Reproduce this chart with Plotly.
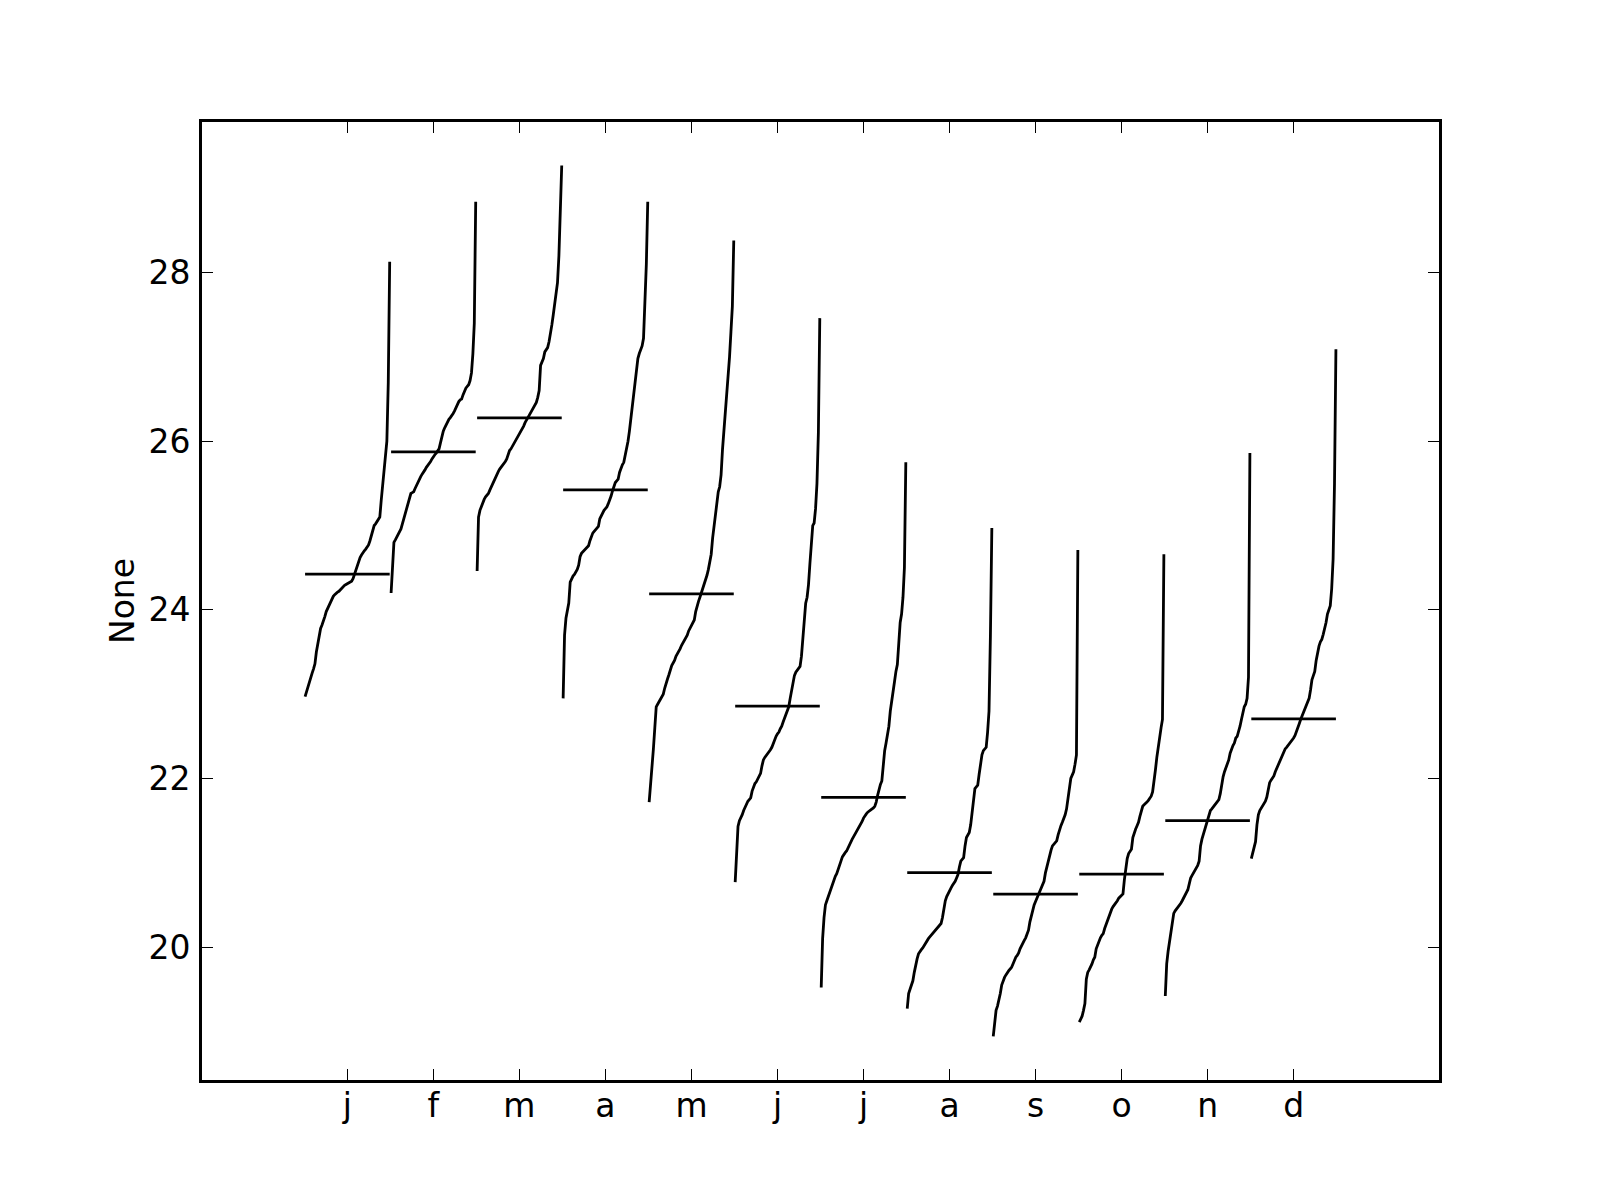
import numpy as np
import plotly.graph_objects as go

month_labels = ["j", "f", "m", "a", "m", "j", "j", "a", "s", "o", "n", "d"]
y_ticks = [20, 22, 24, 26, 28]

jan = [22.97, 23.03, 23.1, 23.15, 23.2, 23.25, 23.3, 23.36, 23.5, 23.6,
       23.68, 23.78, 23.82, 23.86, 23.92, 23.98, 24.02, 24.06, 24.1, 24.13,
       24.16, 24.18, 24.2, 24.21, 24.22, 24.24, 24.26, 24.27, 24.29, 24.3,
       24.31, 24.32, 24.33, 24.34, 24.37, 24.42, 24.48, 24.53, 24.58, 24.62,
       24.65, 24.68, 24.7, 24.72, 24.75, 24.77, 24.82, 24.88, 24.95, 25.0,
       25.02, 25.05, 25.08, 25.1, 25.3, 25.5, 25.7, 25.85, 26.0, 26.7, 28.13]
feb = [24.2, 24.6, 24.8, 24.83, 24.86, 24.9, 24.92, 24.96, 25.02, 25.08,
       25.14, 25.2, 25.26, 25.35, 25.38, 25.39, 25.4, 25.44, 25.48, 25.51,
       25.55, 25.58, 25.61, 25.63, 25.66, 25.69, 25.71, 25.73, 25.76, 25.79,
       25.82, 25.84, 25.86, 25.88, 25.91, 25.98, 26.06, 26.12, 26.16, 26.2,
       26.23, 26.26, 26.28, 26.3, 26.33, 26.36, 26.4, 26.44, 26.47, 26.49,
       26.5, 26.55, 26.6, 26.63, 26.65, 26.67, 26.72, 26.81, 27.04, 27.4, 28.84]
mar = [24.46, 25.1, 25.18, 25.23, 25.28, 25.31, 25.34, 25.36, 25.38, 25.42,
       25.46, 25.49, 25.53, 25.57, 25.61, 25.64, 25.67, 25.69, 25.72, 25.74,
       25.76, 25.79, 25.84, 25.89, 25.91, 25.94, 25.96, 25.99, 26.02, 26.05,
       26.08, 26.11, 26.15, 26.18, 26.22, 26.26, 26.28, 26.31, 26.34, 26.37,
       26.4, 26.43, 26.46, 26.52, 26.6, 26.9, 26.94, 26.98, 27.06, 27.09,
       27.11, 27.18, 27.27, 27.38, 27.5, 27.64, 27.77, 27.88, 28.2, 28.7, 29.27]
apr = [22.95, 23.7, 23.9, 23.98, 24.08, 24.33, 24.37, 24.4, 24.42, 24.45,
       24.48, 24.53, 24.63, 24.67, 24.69, 24.71, 24.73, 24.74, 24.76, 24.82,
       24.87, 24.91, 24.93, 24.95, 24.97, 24.99, 25.08, 25.12, 25.15, 25.18,
       25.2, 25.22, 25.26, 25.3, 25.35, 25.41, 25.47, 25.51, 25.53, 25.55,
       25.63, 25.69, 25.72, 25.75, 25.83, 25.93, 26.0, 26.12, 26.26, 26.42,
       26.57, 26.67, 26.88, 26.98, 27.04, 27.09, 27.13, 27.22, 27.6, 28.1, 28.84]
may = [21.72, 21.9, 22.1, 22.35, 22.6, 22.85, 22.88, 22.91, 22.94, 22.97,
       23.0, 23.07, 23.14, 23.18, 23.23, 23.3, 23.34, 23.37, 23.4, 23.45,
       23.48, 23.5, 23.54, 23.58, 23.61, 23.64, 23.67, 23.7, 23.75, 23.78,
       23.81, 23.84, 23.88, 23.98, 24.05, 24.1, 24.15, 24.2, 24.26, 24.32,
       24.37, 24.41, 24.48, 24.58, 24.66, 24.85, 25.0, 25.1, 25.25, 25.4,
       25.46, 25.6, 25.9, 26.1, 26.3, 26.6, 26.7, 27.0, 27.3, 27.6, 28.38]
jun = [20.77, 21.15, 21.43, 21.5, 21.53, 21.57, 21.62, 21.66, 21.7, 21.73,
       21.75, 21.77, 21.85, 21.91, 21.94, 21.96, 21.99, 22.03, 22.06, 22.15,
       22.22, 22.25, 22.27, 22.29, 22.31, 22.34, 22.37, 22.42, 22.47, 22.5,
       22.53, 22.55, 22.59, 22.62, 22.67, 22.71, 22.75, 22.79, 22.85, 22.95,
       23.05, 23.15, 23.22, 23.26, 23.28, 23.3, 23.33, 23.45, 23.65, 23.95,
       24.08, 24.15, 24.3, 24.55, 24.8, 25.0, 25.03, 25.2, 25.5, 26.1, 27.46]
jul = [19.52, 20.1, 20.35, 20.5, 20.55, 20.6, 20.63, 20.68, 20.74, 20.8,
       20.84, 20.87, 20.93, 20.97, 21.02, 21.07, 21.1, 21.12, 21.14, 21.18,
       21.22, 21.25, 21.28, 21.31, 21.34, 21.36, 21.39, 21.42, 21.45, 21.49,
       21.53, 21.56, 21.58, 21.6, 21.61, 21.62, 21.63, 21.65, 21.67, 21.72,
       21.8, 21.88, 21.93, 21.97, 22.2, 22.33, 22.42, 22.52, 22.62, 22.8,
       22.9, 23.0, 23.15, 23.27, 23.35, 23.6, 23.85, 23.95, 24.15, 24.5, 25.75]
aug = [19.27, 19.45, 19.5, 19.55, 19.6, 19.7, 19.8, 19.86, 19.92, 19.95,
       19.97, 19.99, 20.02, 20.04, 20.07, 20.1, 20.12, 20.14, 20.16, 20.18,
       20.2, 20.22, 20.24, 20.26, 20.28, 20.35, 20.47, 20.55, 20.6, 20.64,
       20.67, 20.7, 20.73, 20.75, 20.78, 20.82, 20.86, 20.95, 21.02, 21.04,
       21.06, 21.2, 21.3, 21.33, 21.36, 21.45, 21.6, 21.8, 21.88, 21.9,
       21.92, 22.05, 22.2, 22.28, 22.33, 22.35, 22.37, 22.55, 22.8, 23.7, 24.97]
sep = [18.94, 19.15, 19.25, 19.3, 19.36, 19.45, 19.55, 19.6, 19.64, 19.67,
       19.7, 19.72, 19.74, 19.76, 19.8, 19.85, 19.88, 19.9, 19.93, 19.98,
       20.02, 20.05, 20.08, 20.11, 20.15, 20.2, 20.3, 20.38, 20.45, 20.5,
       20.54, 20.58, 20.63, 20.66, 20.7, 20.74, 20.78, 20.88, 20.95, 21.0,
       21.1, 21.15, 21.2, 21.22, 21.24, 21.26, 21.33, 21.4, 21.44, 21.48,
       21.52, 21.57, 21.64, 21.75, 21.9, 22.0, 22.04, 22.08, 22.17, 22.28, 24.71]
oct_ = [19.11, 19.15, 19.18, 19.25, 19.33, 19.62, 19.7, 19.73, 19.76, 19.8,
        19.85, 19.88, 19.98, 20.03, 20.08, 20.11, 20.14, 20.16, 20.22, 20.27,
        20.32, 20.37, 20.41, 20.45, 20.48, 20.5, 20.52, 20.55, 20.58, 20.6,
        20.61, 20.63, 20.8, 20.95, 21.05, 21.11, 21.13, 21.16, 21.3, 21.36,
        21.4, 21.44, 21.48, 21.55, 21.6, 21.67, 21.69, 21.7, 21.72, 21.74,
        21.76, 21.79, 21.84, 21.95, 22.1, 22.25, 22.39, 22.52, 22.6, 22.7, 24.66]
nov = [19.42, 19.8, 19.95, 20.05, 20.15, 20.3, 20.4, 20.43, 20.45, 20.47,
       20.5, 20.52, 20.55, 20.58, 20.62, 20.65, 20.68, 20.75, 20.82, 20.85,
       20.88, 20.91, 20.94, 20.97, 21.02, 21.2, 21.28, 21.34, 21.4, 21.45,
       21.52, 21.58, 21.62, 21.64, 21.66, 21.68, 21.7, 21.72, 21.75, 21.82,
       21.95, 22.02, 22.08, 22.13, 22.18, 22.22, 22.3, 22.36, 22.39, 22.42,
       22.48, 22.5, 22.55, 22.62, 22.7, 22.78, 22.85, 22.88, 22.95, 23.2, 25.86]
dec = [21.05, 21.12, 21.17, 21.25, 21.45, 21.57, 21.62, 21.65, 21.68, 21.7,
       21.73, 21.78, 21.85, 21.95, 21.98, 22.0, 22.03, 22.08, 22.12, 22.16,
       22.2, 22.23, 22.27, 22.31, 22.35, 22.37, 22.39, 22.41, 22.44, 22.46,
       22.48, 22.51, 22.55, 22.6, 22.65, 22.7, 22.74, 22.78, 22.82, 22.87,
       22.91, 22.95, 23.05, 23.17, 23.22, 23.27, 23.4, 23.5, 23.57, 23.62,
       23.65, 23.71, 23.77, 23.85, 23.95, 24.0, 24.05, 24.25, 24.6, 25.5, 27.09]

series = [jan, feb, mar, apr, may, jun, jul, aug, sep, oct_, nov, dec]

fig = go.Figure()
start = 0
tick_pos = []
all_y = []
for vals in series:
    n = len(vals)
    xs = np.arange(start, start + n)
    tick_pos.append(float(xs.mean()))
    fig.add_trace(go.Scatter(x=xs, y=vals, mode="lines",
                             line=dict(color="black", width=2.8),
                             showlegend=False, hoverinfo="skip"))
    m = float(np.mean(vals))
    fig.add_trace(go.Scatter(x=[xs[0], xs[-1]], y=[m, m], mode="lines",
                             line=dict(color="black", width=2.8),
                             showlegend=False, hoverinfo="skip"))
    all_y.extend(vals)
    start += n

xmin, xmax = 0, start - 1
xpad = 0.1 * (xmax - xmin)
ymin, ymax = min(all_y), max(all_y)
ypad = 0.05 * (ymax - ymin)

font = dict(family="DejaVu Sans", size=33, color="black")

fig.update_layout(
    width=1600, height=1200,
    margin=dict(l=194, r=169, t=114, b=128),
    paper_bgcolor="white", plot_bgcolor="white",
    font=font,
    xaxis=dict(range=[xmin - xpad, xmax + xpad], tickvals=tick_pos,
               ticktext=month_labels, ticks="inside", ticklen=11,
               tickwidth=1.4, tickcolor="black", showline=True,
               linecolor="black", linewidth=2.8, mirror="allticks",
               showgrid=False, zeroline=False, ticklabelstandoff=-6,
               tickfont=font),
    yaxis=dict(range=[ymin - ypad, ymax + ypad], tickvals=y_ticks,
               ticks="inside", ticklen=11, tickwidth=1.4, tickcolor="black",
               showline=True, linecolor="black", linewidth=2.8,
               mirror="allticks", showgrid=False, zeroline=False,
               ticklabelstandoff=2, tickfont=font,
               title=dict(text="None", font=font, standoff=4)),
)

fig.write_html("out.html")
